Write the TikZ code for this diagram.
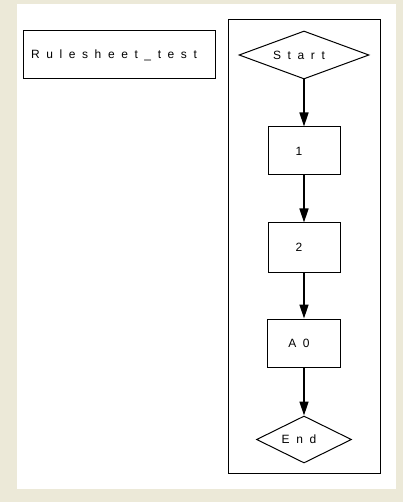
\documentclass[tikz,border=0pt]{standalone}
\usepackage{fontspec}
\usetikzlibrary{shapes.geometric,arrows.meta}
\newfontfamily\lblfont[LetterSpace=55]{Liberation Sans}
\definecolor{pagebeige}{HTML}{ECE9D8}
\newcommand{\padtxt}[1]{#1\hspace*{10pt}}
\tikzset{
  lbl/.style={font=\lblfont\fontsize{12}{13}\selectfont, text=black},
  procbox/.style={draw=black, line width=1pt, rectangle, inner sep=0pt, lbl},
  decision/.style={draw=black, line width=1pt, diamond, inner sep=0pt, lbl},
  flow/.style={draw=black, line width=1.5pt, -{Triangle[width=9pt,length=14pt]}, shorten >=0pt}
}
\begin{document}
\begin{tikzpicture}[x=1pt,y=-1pt]
  \useasboundingbox (0,0) rectangle (403,502);
  \fill[pagebeige] (0,0) rectangle (403,502);
  \fill[white] (17,4) rectangle (396,489);
  \node[procbox, minimum width=192pt, minimum height=48pt] (title) at (119,55) {\padtxt{Rulesheet\_test}};
  \node[draw=black, line width=1pt, minimum width=152pt, minimum height=453pt, inner sep=0pt] (frame) at (304,246.5) {};
  \node[decision, aspect=2.7, minimum width=130pt, minimum height=48pt] (start) at (304,55) {\padtxt{Start}};
  \node[procbox, minimum width=72pt, minimum height=48pt] (b1) at (304,151) {\padtxt{1}};
  \node[procbox, minimum width=72pt, minimum height=49pt] (b2) at (304,247.5) {\padtxt{2}};
  \node[procbox, minimum width=73pt, minimum height=48pt] (a0) at (304,343) {\padtxt{A0}};
  \node[decision, aspect=2, minimum width=95pt, minimum height=47pt] (end) at (304,439.5) {\padtxt{End}};
  \draw[flow] (start.south) -- (b1.north);
  \draw[flow] (b1.south) -- (b2.north);
  \draw[flow] (b2.south) -- (a0.north);
  \draw[flow] (a0.south) -- (end.north);
\end{tikzpicture}
\end{document}
